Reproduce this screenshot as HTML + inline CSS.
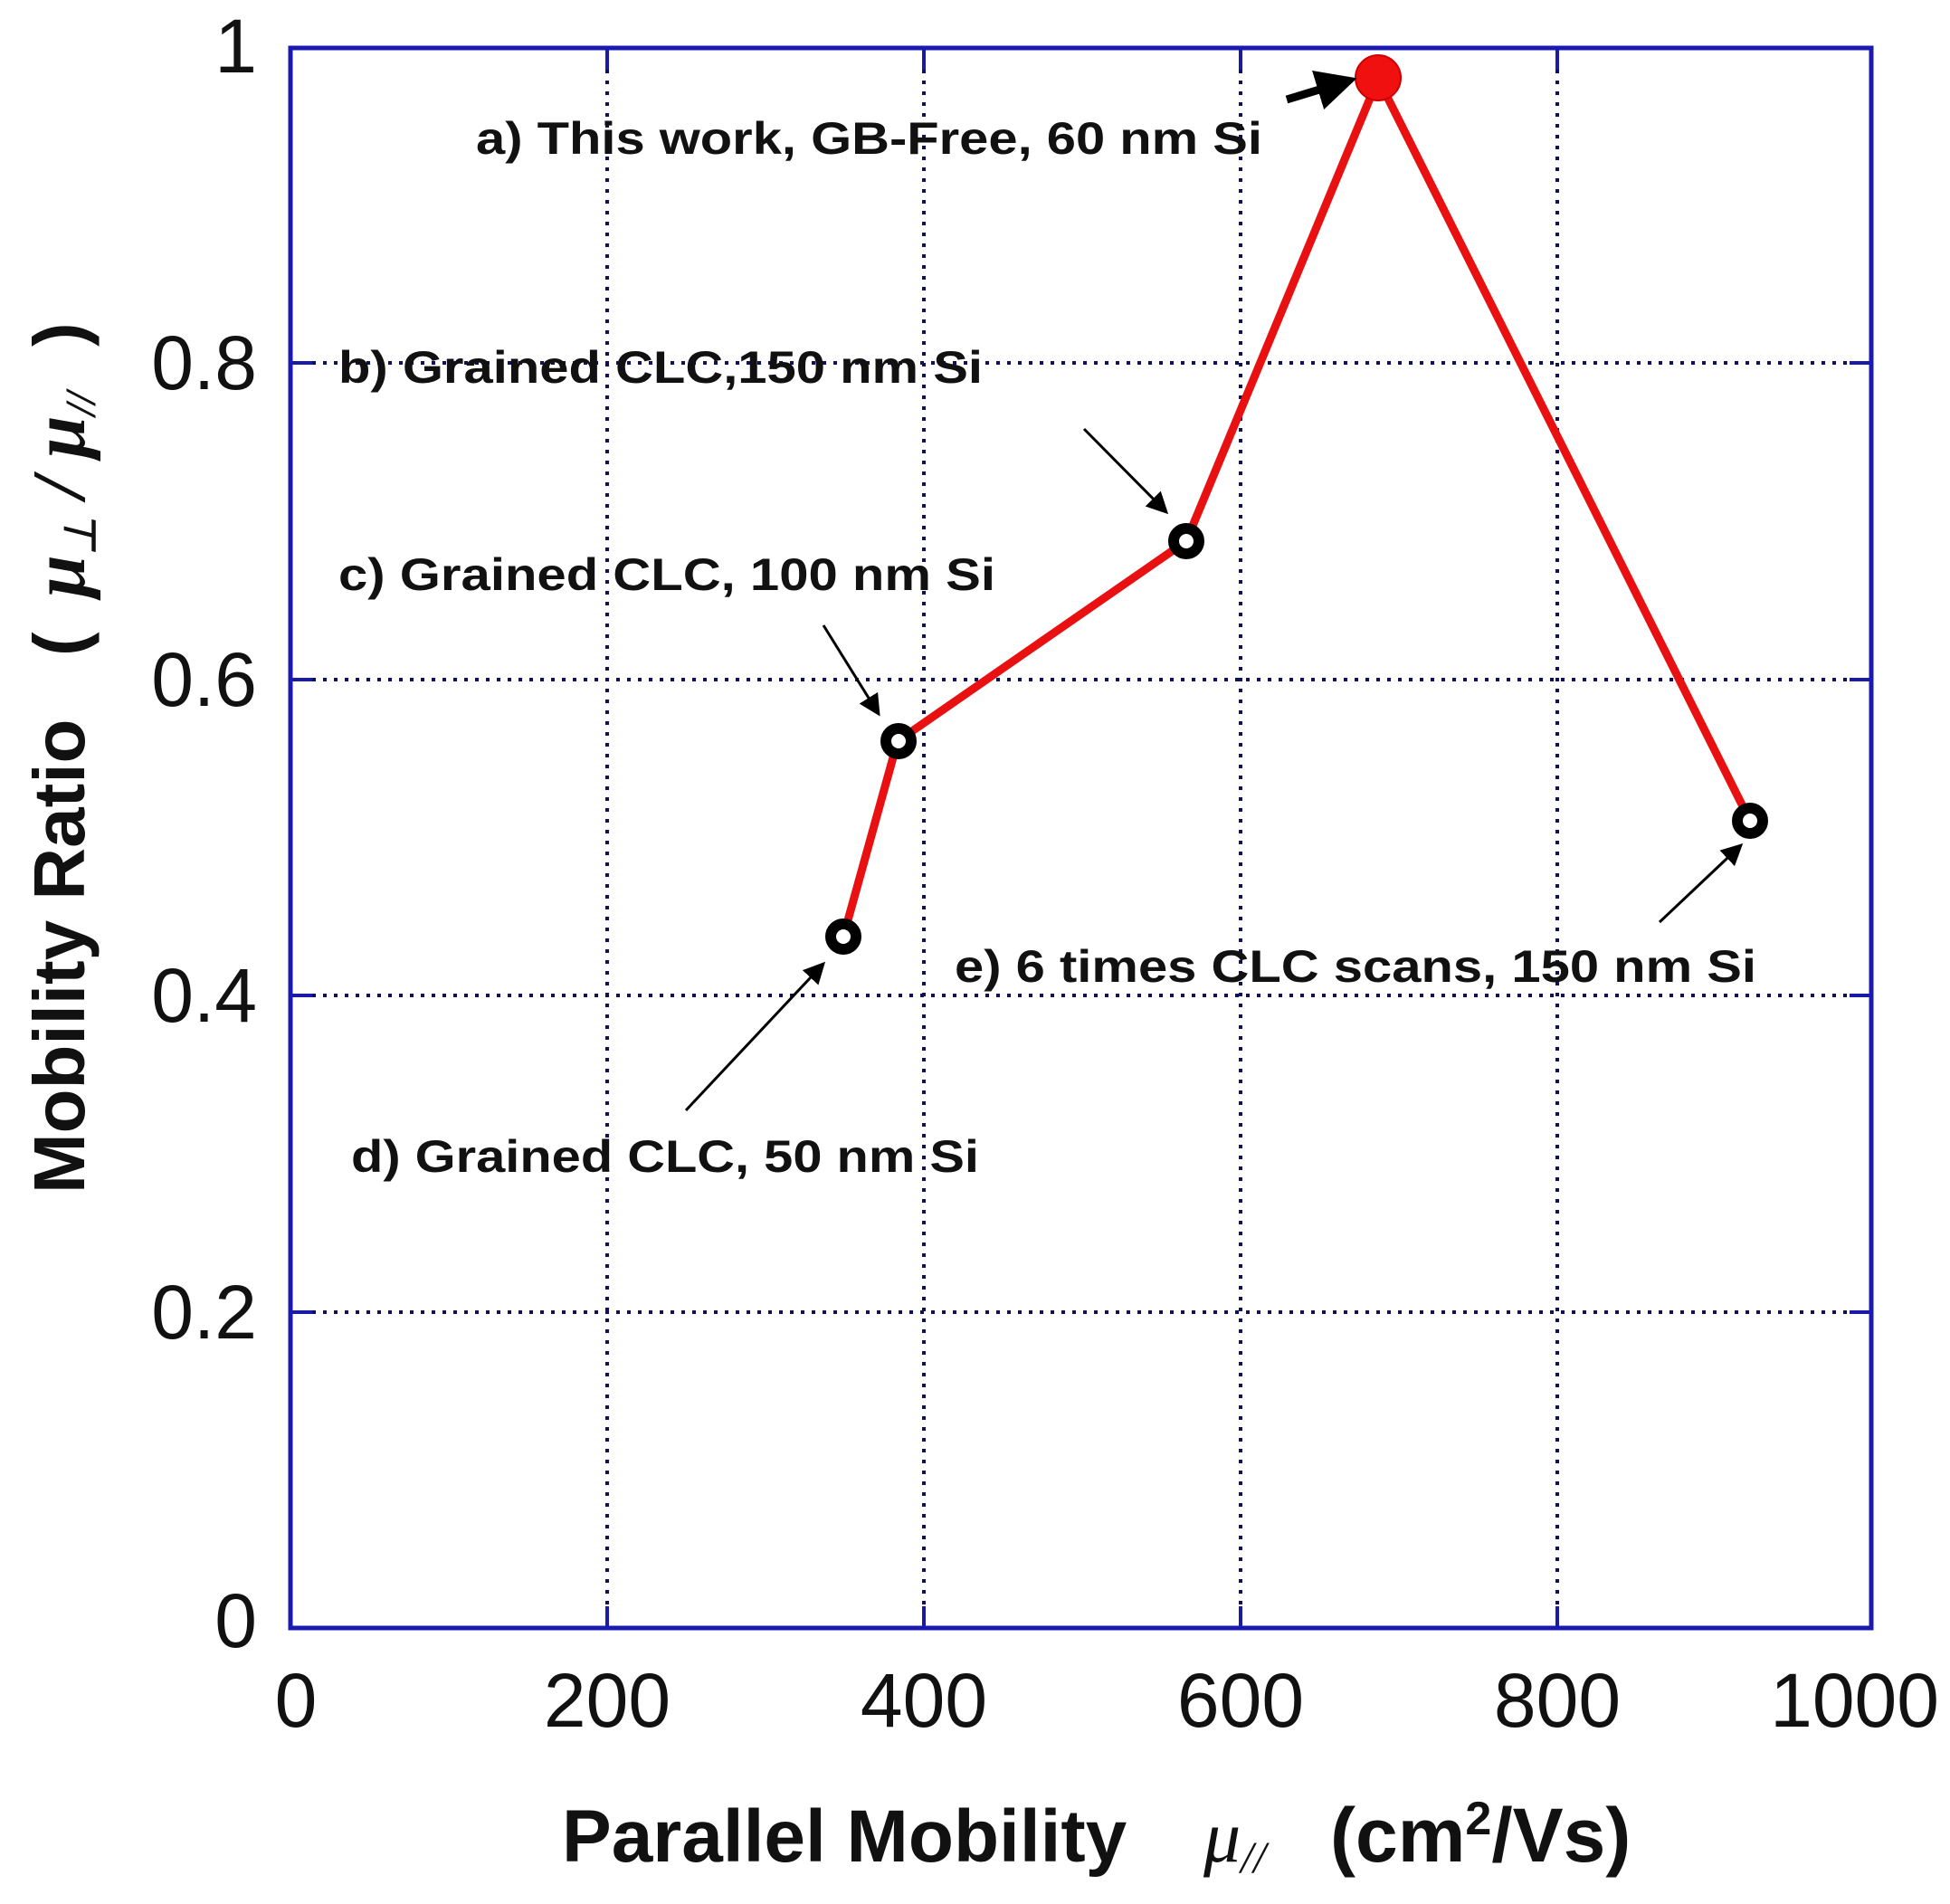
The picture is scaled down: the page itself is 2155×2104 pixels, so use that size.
<!DOCTYPE html>
<html><head><meta charset="utf-8"><style>html,body{margin:0;padding:0;background:#fff}svg{display:block}</style></head>
<body>
<svg width="2155" height="2104" viewBox="0 0 2155 2104" xmlns="http://www.w3.org/2000/svg" font-family="Liberation Sans, Arial, sans-serif">
<rect width="2155" height="2104" fill="#fff"/>
<defs>
<marker id="ah" markerWidth="8" markerHeight="8" refX="7" refY="4" orient="auto" markerUnits="strokeWidth"><path d="M0,0 L8,4 L0,8 z" fill="#000"/></marker>
<marker id="ah2" markerWidth="5" markerHeight="5" refX="4" refY="2.5" orient="auto" markerUnits="strokeWidth"><path d="M0,0 L5,2.5 L0,5 z" fill="#000"/></marker>
</defs>
<g stroke="#10105a" stroke-width="4" stroke-dasharray="4,8">
<line x1="671" y1="53" x2="671" y2="1799"/>
<line x1="1021" y1="53" x2="1021" y2="1799"/>
<line x1="1371" y1="53" x2="1371" y2="1799"/>
<line x1="1721" y1="53" x2="1721" y2="1799"/>
<line x1="321" y1="1450" x2="2068" y2="1450"/>
<line x1="321" y1="1100" x2="2068" y2="1100"/>
<line x1="321" y1="751" x2="2068" y2="751"/>
<line x1="321" y1="401" x2="2068" y2="401"/>
</g>
<g stroke="#1a1aa8" stroke-width="4">
<line x1="671" y1="1799" x2="671" y2="1775"/><line x1="1021" y1="1799" x2="1021" y2="1775"/><line x1="1371" y1="1799" x2="1371" y2="1775"/><line x1="1721" y1="1799" x2="1721" y2="1775"/>
<line x1="671" y1="53" x2="671" y2="77"/><line x1="1021" y1="53" x2="1021" y2="77"/><line x1="1371" y1="53" x2="1371" y2="77"/><line x1="1721" y1="53" x2="1721" y2="77"/>
<line x1="321" y1="1450" x2="345" y2="1450"/><line x1="321" y1="1100" x2="345" y2="1100"/><line x1="321" y1="751" x2="345" y2="751"/><line x1="321" y1="401" x2="345" y2="401"/>
<line x1="2068" y1="1450" x2="2044" y2="1450"/><line x1="2068" y1="1100" x2="2044" y2="1100"/><line x1="2068" y1="751" x2="2044" y2="751"/><line x1="2068" y1="401" x2="2044" y2="401"/>
</g>
<rect x="321" y="53" width="1747" height="1746" fill="none" stroke="#1a1ab0" stroke-width="5"/>
<g font-size="84" fill="#111">
<text x="284" y="1820" text-anchor="end">0</text>
<text x="284" y="1479" text-anchor="end">0.2</text>
<text x="284" y="1129" text-anchor="end">0.4</text>
<text x="284" y="780" text-anchor="end">0.6</text>
<text x="284" y="430" text-anchor="end">0.8</text>
<text x="284" y="80" text-anchor="end">1</text>
<text x="327" y="1908" text-anchor="middle">0</text>
<text x="671" y="1908" text-anchor="middle">200</text>
<text x="1021" y="1908" text-anchor="middle">400</text>
<text x="1371" y="1908" text-anchor="middle">600</text>
<text x="1721" y="1908" text-anchor="middle">800</text>
<text x="2143" y="1908" text-anchor="end">1000</text>
</g>
<text x="621" y="2057" font-size="82" font-weight="bold" fill="#111">Parallel Mobility</text>
<text x="1330" y="2057" font-size="82" font-style="italic" font-family="Liberation Serif, serif" fill="#111">μ<tspan font-size="50" dy="12">//</tspan></text>
<text x="1470" y="2057" font-size="84" font-weight="bold" fill="#111">(cm<tspan font-size="52" dy="-30">2</tspan><tspan dy="30">/Vs)</tspan></text>
<text transform="translate(93,1319) rotate(-90)" font-size="80" font-weight="bold" fill="#111">Mobility Ratio</text>
<text transform="translate(93,725) rotate(-90)" font-size="80" font-weight="bold" fill="#111">(</text>
<text transform="translate(93,660) rotate(-90)" font-size="84" font-style="italic" font-weight="bold" font-family="Liberation Serif, serif" fill="#111">μ<tspan font-size="48" dy="12">⊥</tspan><tspan dy="-12"> / μ</tspan><tspan font-size="48" dy="12">//</tspan></text>
<text transform="translate(93,383) rotate(-90)" font-size="80" font-weight="bold" fill="#111">)</text>
<polyline points="932,1035 992,819 1311,598 1523,87 1934,907" fill="none" stroke="#e81010" stroke-width="9" stroke-linejoin="round"/>
<g fill="#fff" stroke="#000" stroke-width="12">
<circle cx="932" cy="1035" r="14"/><circle cx="993" cy="819" r="14"/><circle cx="1311" cy="598" r="14"/><circle cx="1934" cy="907" r="14"/>
</g>
<circle cx="1523" cy="86" r="25" fill="#f01010" stroke="#c00" stroke-width="2"/>
<g stroke="#000" fill="none">
<line x1="1422" y1="110" x2="1491" y2="89" stroke-width="9" marker-end="url(#ah2)"/>
<line x1="1198" y1="474" x2="1289" y2="566" stroke-width="3" marker-end="url(#ah)"/>
<line x1="910" y1="691" x2="971" y2="789" stroke-width="3" marker-end="url(#ah)"/>
<line x1="758" y1="1227" x2="910" y2="1065" stroke-width="3" marker-end="url(#ah)"/>
<line x1="1834" y1="1019" x2="1924" y2="934" stroke-width="3" marker-end="url(#ah)"/>
</g>
<g font-size="50" font-weight="bold" fill="#111">
<text x="526" y="170" textLength="869" lengthAdjust="spacingAndGlyphs">a) This work, GB-Free, 60 nm Si</text>
<text x="374" y="423" textLength="712" lengthAdjust="spacingAndGlyphs">b) Grained CLC,150 nm Si</text>
<text x="374" y="652" textLength="726" lengthAdjust="spacingAndGlyphs">c) Grained CLC, 100 nm Si</text>
<text x="388" y="1295" textLength="694" lengthAdjust="spacingAndGlyphs">d) Grained CLC, 50 nm Si</text>
<text x="1055" y="1085" textLength="886" lengthAdjust="spacingAndGlyphs">e) 6 times CLC scans, 150 nm Si</text>
</g>
</svg>
</body></html>
